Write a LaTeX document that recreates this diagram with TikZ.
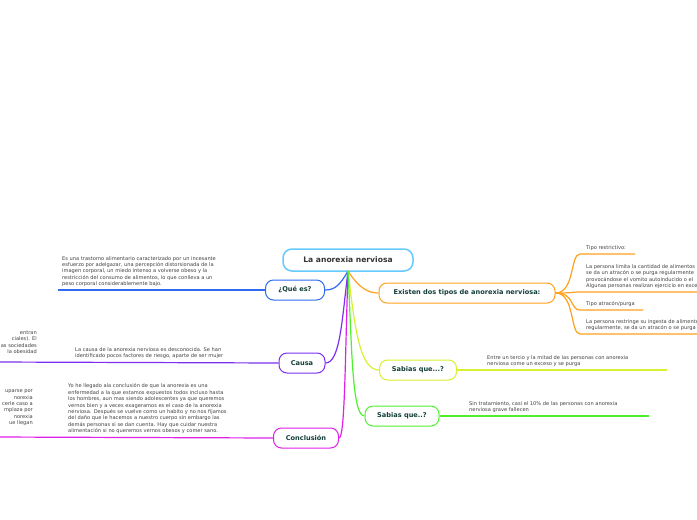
\documentclass[tikz,border=0pt]{standalone}
\usepackage{fontspec}
\setmainfont{DejaVu Sans}
\definecolor{cblue}{HTML}{2E6BF0}
\definecolor{cpurple}{HTML}{7B2FF0}
\definecolor{cmag}{HTML}{E020E8}
\definecolor{corange}{HTML}{FFA01E}
\definecolor{cyel}{HTML}{D8F030}
\definecolor{cgreen}{HTML}{50F030}
\definecolor{ctext}{HTML}{123F38}
\tikzset{
  topic/.style={draw=#1, line width=1pt, rounded corners=8pt, fill=white, font=\fontsize{6.6}{8}\selectfont\bfseries, text=ctext, minimum height=20pt, inner xsep=4pt},
  note/.style={font=\fontsize{5.1}{6.4}\selectfont, text=black!75, align=left, inner sep=0pt},
  link/.style={line width=1.2pt}
}
\begin{document}
\begin{tikzpicture}[x=1pt,y=-1pt]
  \useasboundingbox (0,0) rectangle (697,520);
  \clip (0,0) rectangle (697,520);
  % main topic
  \node[draw=blue!35!cyan!60, line width=1.5pt, rounded corners=9pt, fill=white, minimum width=130pt, minimum height=22pt, font=\fontsize{7.6}{9}\selectfont\bfseries, text=black!80] (main) at (348,260) {La anorexia nerviosa};
  \coordinate (root) at (348,271);
  % left topics
  \node[topic=cblue, minimum width=59pt] (que) at (295,290) {¿Qué es?};
  \node[topic=cpurple, minimum width=46pt] (causa) at (302,363) {Causa};
  \node[topic=cmag, minimum width=65pt] (concl) at (306,438) {Conclusión};
  % right topics
  \node[topic=corange, minimum width=176pt] (tipos) at (467,293) {Existen dos tipos de anorexia nerviosa:};
  \node[topic=cyel, minimum width=77pt] (sab1) at (418,370) {Sabias que...?};
  \node[topic=cgreen, minimum width=74pt] (sab2) at (402,416) {Sabias que..?};
  % connectors
  \draw[link, cblue] (root) .. controls (340,285) and (335,290) .. (que.east);
  \draw[link, cpurple] (root) .. controls (342,320) and (340,363) .. (causa.east);
  \draw[link, cmag] (root) .. controls (345,360) and (345,438) .. (concl.east);
  \draw[link, corange] (root) .. controls (360,290) and (370,293) .. (tipos.west);
  \draw[link, cyel] (root) .. controls (355,330) and (360,370) .. (sab1.west);
  \draw[link, cgreen] (root) .. controls (352,350) and (352,416) .. (sab2.west);
  % que es
  \coordinate (queL) at (58,290);
  \draw[link, cblue] (que.west) -- (queL);
  \node[note, anchor=south west] (queT) at (62,287) {Es una trastorno alimentario caracterizado por un incesante\\esfuerzo por adelgazar, una percepción distorsionada de la\\imagen corporal, un miedo intenso a volverse obeso y la\\restricción del consumo de alimentos, lo que conlleva a un\\peso corporal considerablemente bajo.};
  % causa
  \coordinate (causaL) at (-5,362);
  \draw[link, cpurple] (causa.west) -- (causaL);
  \node[note, anchor=south west] (causaT) at (75,359) {La causa de la anorexia nerviosa es desconocida. Se han\\identificado pocos factores de riesgo, aparte de ser mujer};
  \node[note, anchor=south east, align=right] (causaX) at (37,354) {entran\\ciales). El\\as sociedades\\la obesidad};
  % conclusion
  \coordinate (conclL) at (-5,437);
  \draw[link, cmag] (concl.west) -- (conclL);
  \node[note, anchor=south west] (conclT) at (68,434) {Yo he llegado ala conclusión de que la anorexia es una\\enfermedad a la que estamos expuestos todos incluso hasta\\los hombres, aun mas siendo adolescentes ya que queremos\\vernos bien y a veces exageramos es el caso de la anorexia\\nerviosa. Después se vuelve como un habito y no nos fijamos\\del daño que le hacemos a nuestro cuerpo sin embargo las\\demás personas si se dan cuenta. Hay que cuidar  nuestra\\alimentación si no queremos vernos obesos y comer sano.};
  \node[note, anchor=south east, align=right] (conclX) at (33,426) {uparse por\\norexia\\cerle caso a\\mplaza por\\norexia\\ue llegan};
  % tipos
  \coordinate (t1) at (635,254);
  \coordinate (t2) at (705,292);
  \coordinate (t3) at (643,310);
  \coordinate (t4) at (705,334);
  \foreach \t/\y in {t1/254,t2/292,t3/310,t4/334}
    \draw[link, corange] (tipos.east) .. controls (575,293) and (570,\y) .. (580,\y) -- (\t);
  \node[note, anchor=south west] (t1T) at (586,251) {Tipo restrictivo:};
  \node[note, anchor=south west] (t2T) at (586,289) {La persona limita la cantidad de alimentos\\se da un atracón o se purga regularmente\\provocándose el vomito autoinducido o el\\Algunas personas realizan ejercicio en exceso};
  \node[note, anchor=south west] (t3T) at (586,307) {Tipo atracón/purga};
  \node[note, anchor=south west] (t4T) at (586,331) {La persona restringe su ingesta de alimentos\\regularmente, se da un atracón o se purga};
  % sabias
  \coordinate (s1) at (667,370);
  \draw[link, cyel] (sab1.east) -- (s1);
  \node[note, anchor=south west] (s1T) at (487,367) {Entre un tercio y la mitad de las personas con anorexia\\nerviosa come un exceso y se purga};
  \coordinate (s2) at (649,416);
  \draw[link, cgreen] (sab2.east) -- (s2);
  \node[note, anchor=south west] (s2T) at (469,413) {Sin tratamiento, casi el 10\% de las personas con anorexia\\nerviosa grave fallecen};
\end{tikzpicture}
\end{document}
